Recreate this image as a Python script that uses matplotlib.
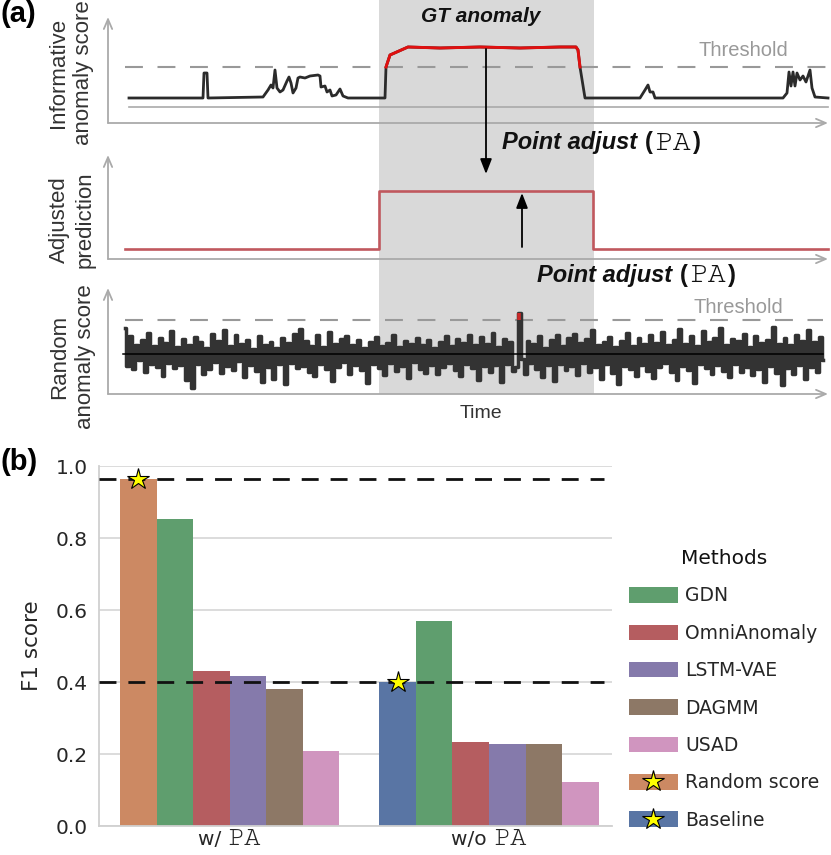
import colorsys
import numpy as np
import matplotlib
matplotlib.use("Agg")
import matplotlib.pyplot as plt
import matplotlib.colors as mcolors
from matplotlib.patches import Rectangle, Patch
from matplotlib.lines import Line2D
from matplotlib.legend_handler import HandlerTuple
from matplotlib.offsetbox import TextArea, HPacker, AnnotationBbox
from matplotlib import font_manager as fm
import matplotlib.transforms as mtransforms

# ---------------- data: panel (a) ----------------
# informative anomaly score (time, score)
info_time = [29, 103, 104, 107, 108, 163, 168, 171, 173, 175, 177, 180, 183, 187, 189,
             191, 193, 196, 198, 200, 205, 210, 218, 220, 221, 225, 227, 230, 232, 236,
             240, 243, 248, 285, 286, 288, 290, 308, 340, 380, 420, 460, 476, 478, 480,
             485, 540, 545, 548, 550, 553, 555, 683, 687, 689, 691, 693, 695, 697, 700,
             703, 706, 710, 712, 715, 728]
info_score = [2.5, 2.5, 5.0, 5.0, 2.5, 2.6, 3.3, 3.8, 3.5, 5.3, 3.5, 3.1, 3.3, 4.2, 4.6,
              4.0, 3.0, 3.5, 4.5, 4.6, 4.5, 4.7, 4.8, 4.7, 3.6, 3.7, 3.1, 3.3, 2.7, 2.8,
              3.4, 2.7, 2.5, 2.5, 5.6, 6.2, 6.8, 7.6, 7.5, 7.6, 7.5, 7.6, 7.6, 7.3, 5.6,
              2.5, 2.5, 3.3, 3.8, 3.1, 3.1, 2.5, 2.5, 3.0, 5.1, 3.7, 5.1, 3.7, 5.0, 4.3,
              4.7, 4.1, 5.3, 3.5, 2.6, 2.5]
info_threshold = 5.6
info_reference = 1.6

gt_start, gt_end = 279, 494

# adjusted prediction (step function)
pred_time = [25, 279, 493, 728]
pred_value = [1.0, 6.8, 1.0, 1.0]

# random anomaly score (deviation from its mean)
random_anomaly_score = [
    2.6, -1.2, 1.8, -1.5, 0.9, -0.6, 1.4, -1.8, 2.1, -1.0, 0.8, -1.3, 1.6, -2.2, 1.1, -0.9, 2.3, -1.4, 0.7, -1.1,
    1.5, -2.6, 0.9, -3.4, 1.7, -1.0, 1.2, -2.0, 0.6, -1.5, 2.0, -0.8, 1.3, -1.9, 2.4, -1.2, 0.8, -1.6, 1.9, -0.7,
    1.0, -2.3, 1.4, -1.1, 0.5, -1.7, 1.8, -2.8, 0.9, -1.3, 1.2, -2.5, 0.6, -1.0, 1.6, -3.0, 1.1, -0.9, 2.0, -1.4,
    2.5, -1.2, 1.3, -1.8, 0.8, -2.2, 1.9, -1.0, 0.7, -1.5, 2.2, -2.7, 1.0, -1.3, 1.5, -0.8, 1.8, -2.0, 0.9, -1.1,
    1.4, -1.6, 0.6, -2.9, 1.2, -1.0, 1.7, -1.4, 0.8, -2.1, 1.1, -0.9, 1.9, -1.7, 0.7, -1.2, 1.3, -2.4, 1.0, -0.8,
    1.6, -1.5, 0.9, -1.9, 1.4, -1.1, 0.6, -2.0, 1.2, -1.3, 1.8, -0.9, 0.8, -1.6, 1.5, -2.2, 1.1, -1.0, 1.9, -1.4,
    0.9, -2.6, 1.7, -1.2, 1.0, -1.8, 2.1, -1.1, 0.7, -2.8, 1.5, -1.0, 1.2, -1.7, -1.3, 4.1, -0.5, -2.0, 1.3, -0.9,
    1.0, -1.5, 1.8, -2.3, 0.6, -1.1, 1.4, -2.7, 1.9, -1.0, 0.8, -1.6, 1.6, -1.2, 2.0, -2.1, 1.1, -0.9, 1.5, -1.8,
    2.4, -1.3, 0.9, -2.5, 1.2, -1.0, 1.7, -1.9, 0.7, -3.0, 1.3, -1.2, 2.1, -1.5, 0.8, -2.2, 1.6, -1.1, 1.0, -1.7,
    1.9, -2.4, 1.1, -1.3, 2.2, -0.9, 0.9, -1.8, 1.4, -2.6, 2.5, -1.2, 1.0, -1.6, 1.8, -2.9, 0.8, -1.0, 2.3, -1.4,
    1.2, -2.0, 1.6, -1.1, 2.6, -1.7, 0.9, -2.3, 1.5, -1.0, 1.3, -1.8, 2.0, -1.3, 0.7, -2.1, 1.8, -1.5, 1.1, -2.8,
    1.4, -1.2, 2.7, -1.9, 1.0, -3.1, 1.6, -1.4, 0.9, -2.0, 1.9, -1.1, 1.3, -2.5, 2.4, -1.3, 1.2, -1.8, 1.7, -0.6,
]
random_t_start, random_t_end = 25, 723
random_threshold = 3.4

# ---------------- data: panel (b) ----------------
pa_settings = ["w/ ", "w/o "]
methods = ["GDN", "OmniAnomaly", "LSTM-VAE", "DAGMM", "USAD"]
f1_with_pa = [0.854, 0.430, 0.416, 0.380, 0.208]
f1_without_pa = [0.570, 0.232, 0.229, 0.227, 0.121]
random_score_f1 = 0.963   # w/ PA
baseline_f1 = 0.400       # w/o PA
yticks_b = [0.0, 0.2, 0.4, 0.6, 0.8, 1.0]

# ---------------- style ----------------
def desat(hexc, prop=0.75):
    r, g, b = mcolors.to_rgb(hexc)
    h, l, s = colorsys.rgb_to_hls(r, g, b)
    return colorsys.hls_to_rgb(h, l, s * prop)

deep = {"blue": "#4C72B0", "orange": "#DD8452", "green": "#55A868", "red": "#C44E52",
        "purple": "#8172B3", "brown": "#937860", "pink": "#DA8BC3"}
method_colors = [desat(deep[k]) for k in ["green", "red", "purple", "brown", "pink"]]
random_color = desat(deep["orange"])
baseline_color = desat(deep["blue"])

_installed = {f.name for f in fm.fontManager.ttflist}
TT_FAMILY = "DejaVu Sans Mono"
for cand in ["Cutive Mono", "Courier Prime", "Courier New", "Nimbus Mono PS", "FreeMono",
             "Libertinus Mono", "Liberation Mono"]:
    if cand in _installed:
        TT_FAMILY = cand
        break
TT_WEIGHT = "normal"

W, H = 831, 855
fig = plt.figure(figsize=(W / 100, H / 100), dpi=100)

def fax(l, t, r, b):
    return fig.add_axes([l / W, 1 - b / H, (r - l) / W, (b - t) / H])

SANS = "Liberation Sans"
AX_GRAY = "#aaaaaa"

def arrow_axes(ax):
    ax.set_facecolor("none")
    for s in ax.spines.values():
        s.set_visible(False)
    ax.set_xticks([])
    ax.set_yticks([])
    kw = dict(arrowstyle="->,head_width=0.3,head_length=0.7", color=AX_GRAY, lw=1.3,
              shrinkA=0, shrinkB=0)
    ax.annotate("", xy=(0, 1), xytext=(0, 0), xycoords="axes fraction", arrowprops=kw)
    ax.annotate("", xy=(1, 0), xytext=(0, 0), xycoords="axes fraction", arrowprops=kw)

ax1 = fax(108, 17, 828, 123)
ax2 = fax(108, 155, 828, 259)
ax3 = fax(108, 288, 828, 394)
for ax in (ax1, ax2, ax3):
    arrow_axes(ax)
    ax.set_xlim(8, 728)
ax1.set_ylim(0, 10.6)
ax2.set_ylim(0, 10.4)
ax3.set_ylim(-4.0, 6.6)

# GT band across the whole panel (a)
blend = mtransforms.blended_transform_factory(ax1.transData, fig.transFigure)
fig.add_artist(Rectangle((gt_start, 1 - 394 / H), gt_end - gt_start, 394 / H,
                         transform=blend, facecolor="#d9d9d9", edgecolor="none", zorder=-1))

DASH = (0, (8.6, 7))
# top panel
ax1.plot([info_time[0], info_time[-1]], [info_reference] * 2, color=AX_GRAY, lw=1.2, clip_on=False)
ax1.plot([25, 728], [info_threshold] * 2, color="#999999", lw=1.5, ls=DASH, clip_on=False)
ax1.plot(info_time, info_score, color="#2b2b2b", lw=2.0, clip_on=False)
# red part above threshold inside GT anomaly
rt, rv = [], []
for i in range(1, len(info_time)):
    t0, t1 = info_time[i - 1], info_time[i]
    v0, v1 = info_score[i - 1], info_score[i]
    if not (gt_start <= t1 <= gt_end):
        continue
    a0, a1 = v0 >= info_threshold, v1 >= info_threshold
    if a0 != a1:
        tc = t0 + (info_threshold - v0) * (t1 - t0) / (v1 - v0)
        if a1:
            rt += [tc]; rv += [info_threshold]
        else:
            rt += [t0, tc]; rv += [v0, info_threshold]
    elif a1:
        if not rt:
            rt.append(t0); rv.append(v0)
        rt.append(t1); rv.append(v1)
ax1.plot(rt, rv, color="#e01010", lw=2.1, clip_on=False)

# middle panel
ax2.plot(pred_time, pred_value, drawstyle="steps-post", color="#c0585e", lw=1.9, clip_on=False)

# bottom panel
rx = np.linspace(random_t_start, random_t_end, len(random_anomaly_score))
rs = np.array(random_anomaly_score)
ax3.plot([25, 723], [random_threshold] * 2, color="#999999", lw=1.5, ls=DASH, clip_on=False)
ax3.plot(rx, rs, drawstyle="steps-mid", color="#333333", lw=2.5, clip_on=False)
ax3.plot([23, 723], [0, 0], color="black", lw=1.1, clip_on=False)
hi = rs > random_threshold
ax3.vlines(rx[hi], random_threshold, rs[hi], color="#cc2a2a", lw=2.6)

# texts panel (a)
lab_kw = dict(family=SANS, size=16, color="#333333", rotation=90, ha="center", va="center",
              multialignment="center", linespacing=1.3)
fig.text(71 / W, 1 - 73 / H, "Informative\nanomaly score", **lab_kw)
fig.text(72 / W, 1 - 220 / H, "Adjusted\nprediction", **lab_kw)
fig.text(73 / W, 1 - 357 / H, "Random\nanomaly score", **lab_kw)
fig.text(481 / W, 1 - 413 / H, "Time", family=SANS, size=14, color="#333333", ha="center", va="center")
fig.text(743 / W, 1 - 51 / H, "Threshold", family=SANS, size=14.5, color="#999999", ha="center", va="center")
fig.text(738 / W, 1 - 307 / H, "Threshold", family=SANS, size=14.5, color="#999999", ha="center", va="center")
fig.text(481 / W, 1 - 17 / H, "GT anomaly", family=SANS, size=15, weight="bold", style="italic",
         color="#111111", ha="center", va="center")
fig.text(0, 1, "(a)", family=SANS, size=21, weight="bold", ha="left", va="top")
fig.text(0, 1 - 448 / H, "(b)", family=SANS, size=21, weight="bold", ha="left", va="top")

def pa_label(x_px, y_px):
    bi = dict(family=SANS, size=17, weight="bold", style="italic", color="#111111")
    bd = dict(family=SANS, size=17, weight="bold", color="#111111")
    tt = dict(family=TT_FAMILY, weight=TT_WEIGHT, size=22, color="#111111")
    box = HPacker(children=[TextArea("Point adjust ", textprops=bi), TextArea("(", textprops=bd),
                            TextArea("PA", textprops=tt), TextArea(")", textprops=bd)],
                  align="baseline", pad=0, sep=1)
    ab = AnnotationBbox(box, (x_px / W, 1 - y_px / H), xycoords="figure fraction",
                        box_alignment=(0, 0.5), frameon=False, pad=0)
    fig.add_artist(ab)

pa_label(502, 143)
pa_label(537, 275)

# arrows between panels
ax2.annotate("", xy=(386, 8.5), xycoords="data", xytext=(386, 7.4), textcoords=ax1.transData,
             arrowprops=dict(arrowstyle="-|>,head_width=0.35,head_length=0.9", color="black",
                             lw=1.3, shrinkA=0, shrinkB=0), annotation_clip=False)
ax2.annotate("", xy=(422, 6.6), xycoords="data", xytext=(422, 10.7), textcoords=ax3.transData,
             arrowprops=dict(arrowstyle="-|>,head_width=0.35,head_length=0.9", color="black",
                             lw=1.3, shrinkA=0, shrinkB=0), annotation_clip=False)

# ---------------- panel (b) ----------------
axb = fax(99, 466, 612, 826)
axb.set_xlim(-0.503, 1.474)
axb.set_ylim(0, 1.0)
axb.set_axisbelow(True)
axb.grid(axis="y", color="#d5d5d5", lw=1.2)
for k in ("top", "right"):
    axb.spines[k].set_visible(False)
for k in ("left", "bottom"):
    axb.spines[k].set_color("#d0d0d0")
    axb.spines[k].set_linewidth(1.3)
axb.tick_params(length=0, labelsize=14.5, labelcolor="#262626", pad=8)
axb.set_yticks(yticks_b)
axb.set_yticklabels([f"{v:.1f}" for v in yticks_b])
axb.set_xticks([0, 1])
axb.set_xticklabels(["", ""])
axb.set_ylabel("F1 score", fontsize=15.5, color="#262626", labelpad=10)

bw = 0.1407
offsets = (np.arange(6) - 2.5) * bw
group_first = [(random_score_f1, random_color), (baseline_f1, baseline_color)]
group_methods = [f1_with_pa, f1_without_pa]
star_kw = dict(marker="*", markersize=16, markerfacecolor="#ffff00", markeredgecolor="black",
               markeredgewidth=0.8, linestyle="none", zorder=5)
for g in range(2):
    fv, fc = group_first[g]
    axb.bar(g + offsets[0], fv, width=bw, color=fc, linewidth=0)
    axb.plot([g + offsets[0]], [fv], **star_kw)
    for j, v in enumerate(group_methods[g]):
        axb.bar(g + offsets[j + 1], v, width=bw, color=method_colors[j], linewidth=0)

for ref in (random_score_f1, baseline_f1):
    axb.axhline(ref, color="#111111", lw=2.0, ls=(0, (6.1, 4.3)), zorder=3, xmax=0.985)

# x tick labels with typewriter PA
for g, lab in enumerate(pa_settings):
    box = HPacker(children=[TextArea(lab, textprops=dict(family="DejaVu Sans", size=14.5, color="#262626")),
                            TextArea("PA", textprops=dict(family=TT_FAMILY, weight=TT_WEIGHT, size=20,
                                                          color="#262626"))],
                  align="baseline", pad=0, sep=0)
    ab = AnnotationBbox(box, (g, 0), xycoords=("data", "axes fraction"), xybox=(0, -2),
                        boxcoords="offset points", box_alignment=(0.5, 1), frameon=False, pad=0)
    axb.add_artist(ab)

# legend
handles = [Patch(facecolor=c, edgecolor="none") for c in method_colors]
star_h = Line2D([], [], marker="*", markersize=16, markerfacecolor="#ffff00",
                markeredgecolor="black", markeredgewidth=0.8, linestyle="none")
handles += [(Patch(facecolor=random_color, edgecolor="none"), star_h),
            (Patch(facecolor=baseline_color, edgecolor="none"), star_h)]
labels = methods + ["Random score", "Baseline"]
leg = fig.legend(handles, labels, title="Methods", loc="upper left",
                 bbox_to_anchor=(629 / W, 1 - 549 / H), frameon=False, fontsize=13.5,
                 title_fontsize=14.5, handlelength=2.6, handleheight=0.9, labelspacing=0.98,
                 handletextpad=0.4, borderpad=0, borderaxespad=0,
                 handler_map={tuple: HandlerTuple(ndivide=1)})
for t in leg.get_texts():
    t.set_color("#262626")
leg.get_title().set_color("#111111")

fig.savefig("out.png", dpi=100)
